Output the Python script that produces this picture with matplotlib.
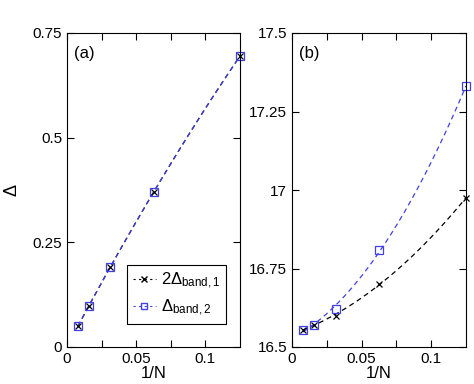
import matplotlib
matplotlib.use("Agg")
import matplotlib.pyplot as plt
import numpy as np

plt.rcParams['font.family'] = ['Liberation Sans', 'DejaVu Sans']
plt.rcParams['mathtext.fontset'] = 'custom'
plt.rcParams['mathtext.rm'] = 'Liberation Sans'
plt.rcParams['mathtext.it'] = 'Liberation Sans:italic'

# system sizes, x = 1/N
N = np.array([128, 64, 32, 16, 8])
invN = 1.0 / N

# panel (a): both quantities coincide
gap_a_band1 = [0.05, 0.097, 0.19, 0.37, 0.695]
gap_a_band2 = [0.05, 0.097, 0.19, 0.37, 0.695]

# panel (b)
gap_b_band1 = [16.555, 16.57, 16.60, 16.70, 16.975]
gap_b_band2 = [16.555, 16.57, 16.62, 16.81, 17.33]

blue = '#4040e6'

fig = plt.figure(figsize=(4.74, 3.84), dpi=100)
axa = fig.add_axes([67/474, 1-347/384, 173/474, 314/384])
axb = fig.add_axes([292/474, 1-347/384, 174/474, 314/384])

xfit = np.linspace(invN.min(), invN.max(), 200)

for ax, y1, y2 in [(axa, gap_a_band1, gap_a_band2), (axb, gap_b_band1, gap_b_band2)]:
	c1 = np.polyfit(invN, y1, 2)
	c2 = np.polyfit(invN, y2, 2)
	ax.plot(xfit, np.polyval(c1, xfit), ls=(0, (4, 3)), color='k', lw=0.9)
	ax.plot(xfit, np.polyval(c2, xfit), ls=(0, (4, 3)), color=blue, lw=0.9)
	ax.plot(invN, y1, 'x', color='k', ms=5, mew=0.9, clip_on=False)
	ax.plot(invN, y2, 's', mfc='none', mec=blue, ms=6, mew=0.9, clip_on=False)
	ax.set_xlim(0, 0.125)
	ax.set_xticks([0, 0.05, 0.1])
	ax.set_xticklabels(['0', '0.05', '0.1'])
	ax.set_xticks([0.025, 0.075], minor=True)
	ax.tick_params(which='both', direction='in', top=True, right=True, labelsize=11, length=5, width=0.8)
	ax.tick_params(which='minor', length=5)
	ax.set_xlabel('1/N', fontsize=12, labelpad=0)
	for s in ax.spines.values():
		s.set_linewidth(0.8)

axa.set_ylim(0, 0.75)
axa.set_yticks([0, 0.25, 0.5, 0.75])
axa.set_yticklabels(['0', '0.25', '0.5', '0.75'])
axa.set_ylabel(r'$\Delta$', fontsize=13, labelpad=8)
axa.text(0.04, 0.96, '(a)', transform=axa.transAxes, fontsize=12, va='top')

axb.set_ylim(16.5, 17.5)
axb.set_yticks([16.5, 16.75, 17, 17.25, 17.5])
axb.set_yticklabels(['16.5', '16.75', '17', '17.25', '17.5'])
axb.text(0.04, 0.96, '(b)', transform=axb.transAxes, fontsize=12, va='top')

h1, = axa.plot([], [], ls=(0, (2, 3)), color='k', marker='x', ms=4, lw=0.8)
h2, = axa.plot([], [], ls=(0, (2, 3)), color=blue, marker='s', mfc='none', ms=4, lw=0.8)
leg = axa.legend([h1, h2], [r'2$\Delta_{\rm band,1}$', r'$\Delta_{\rm band,2}$'],
	loc='lower right', bbox_to_anchor=(0.92, 0.073), borderaxespad=0, fontsize=12, handlelength=1.4,
	handletextpad=0.3, borderpad=0.35, labelspacing=0.4, fancybox=False, edgecolor='k', framealpha=1)
leg.get_frame().set_linewidth(0.8)

plt.savefig('out.png', dpi=100)
